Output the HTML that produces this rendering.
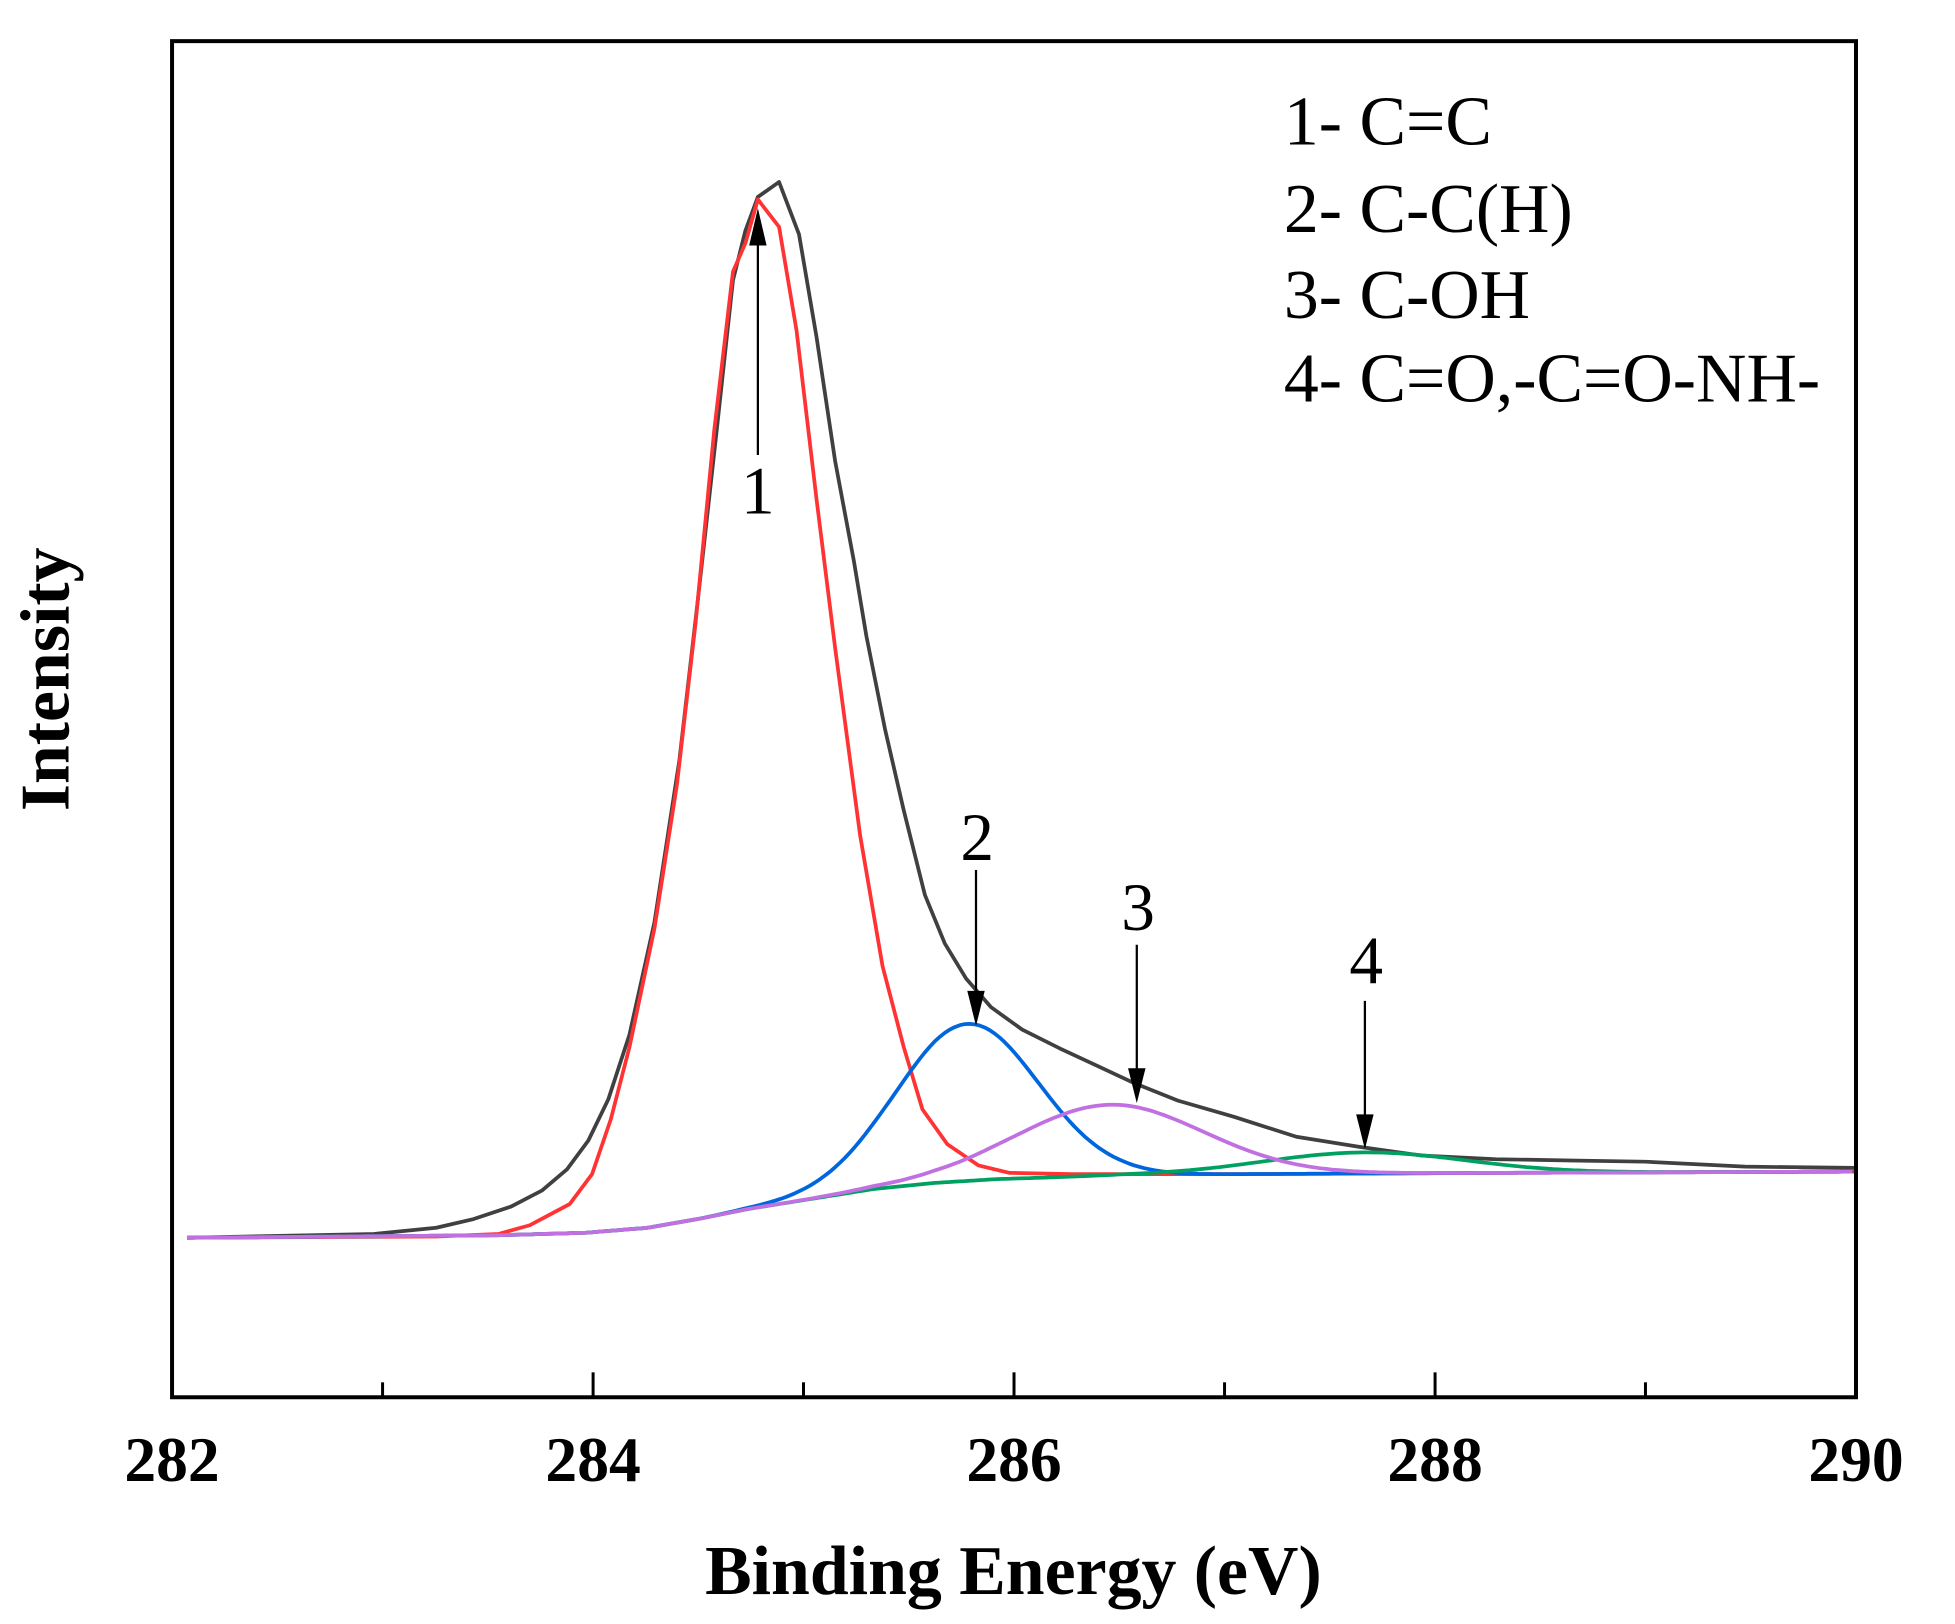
<!DOCTYPE html>
<html><head><meta charset="utf-8">
<style>
html,body{margin:0;padding:0;background:#fff;}
svg{display:block;}
text{font-family:"Liberation Serif",serif;fill:#000;}
</style></head>
<body>
<svg id="s" width="1955" height="1624" viewBox="0 0 1568.4 1302.9" xmlns="http://www.w3.org/2000/svg">
<rect x="0" y="0" width="1568.4" height="1302.9" fill="#fff"/>
<g id="curves" fill="none" stroke-width="3" stroke-linejoin="round"></g>
<rect x="138" y="33" width="1351" height="1088" fill="none" stroke="#000" stroke-width="3.2"/>
<g stroke="#000" stroke-width="2.4">
<line x1="306.9" y1="1121" x2="306.9" y2="1109"/>
<line x1="475.8" y1="1121" x2="475.8" y2="1101"/>
<line x1="644.6" y1="1121" x2="644.6" y2="1109"/>
<line x1="813.5" y1="1121" x2="813.5" y2="1101"/>
<line x1="982.4" y1="1121" x2="982.4" y2="1109"/>
<line x1="1151.3" y1="1121" x2="1151.3" y2="1101"/>
<line x1="1320.1" y1="1121" x2="1320.1" y2="1109"/>
</g>
<g font-size="51" font-weight="bold" text-anchor="middle">
<text x="138" y="1188">282</text>
<text x="475.8" y="1188">284</text>
<text x="813.5" y="1188">286</text>
<text x="1151.3" y="1188">288</text>
<text x="1489" y="1188">290</text>
</g>
<text x="813" y="1279" font-size="56" font-weight="bold" text-anchor="middle">Binding Energy (eV)</text>
<text transform="translate(55,545) rotate(-90)" font-size="56" font-weight="bold" text-anchor="middle">Intensity</text>
<g font-size="56">
<text x="1030" y="116">1- C=C</text>
<text x="1030" y="186">2- C-C(H)</text>
<text x="1030" y="255">3- C-OH</text>
<text x="1030" y="322">4- C=O,-C=O-NH-</text>
</g>
<g stroke="#000" stroke-width="1.8">
<line x1="608" y1="365" x2="608" y2="195"/>
<line x1="783" y1="698" x2="783" y2="800"/>
<line x1="912" y1="758" x2="912" y2="862"/>
<line x1="1095" y1="803" x2="1095" y2="900"/>
</g>
<g fill="#000">
<polygon points="608,167 601,197 615,197"/>
<polygon points="783,823 776,795 790,795"/>
<polygon points="912,885 905,857 919,857"/>
<polygon points="1095,922 1088,894 1102,894"/>
</g>
<g font-size="54" text-anchor="middle">
<text x="608" y="412">1</text>
<text x="784" y="690">2</text>
<text x="913" y="746">3</text>
<text x="1096" y="789">4</text>
</g>
</svg>
<script>
(function(){
var ns="http://www.w3.org/2000/svg",g=document.getElementById("curves");
function interp(pts,x){if(x<=pts[0][0])return pts[0][1];for(var i=1;i<pts.length;i++){if(x<=pts[i][0]){var a=pts[i-1],b=pts[i];return a[1]+(b[1]-a[1])*(x-a[0])/(b[0]-a[0]);}}return pts[pts.length-1][1];}
var base=[[150,993],[400,991],[470,989],[520,985],[560,978],[600,970],[650,962],[700,954],[750,949],[800,946],[900,943],[1000,942],[1200,941],[1489,940]];
function gauss(x,c,h,s){return h*Math.exp(-(x-c)*(x-c)/(2*s*s));}
function path(fn,col){var d="";for(var x=150;x<=1489;x+=4){d+=(x==150?"M":"L")+x+","+fn(x).toFixed(1);}var p=document.createElementNS(ns,"path");p.setAttribute("d",d);p.setAttribute("stroke",col);g.appendChild(p);}
function poly(pts,col){var d="";pts.forEach(function(p,i){d+=(i?"L":"M")+p[0]+","+p[1];});var p=document.createElementNS(ns,"path");p.setAttribute("d",d);p.setAttribute("stroke",col);g.appendChild(p);}
poly([[150,993],[300,990],[350,985],[380,978],[410,968],[435,955],[455,938],[472,915],[488,882],[505,830],[525,740],[545,610],[560,480],[575,345],[588,225],[598,185],[608,158],[625,146],[641,188],[655,270],[670,370],[685,450],[695,510],[710,585],[725,650],[742,718],[758,757],[775,785],[795,808],[820,826],[850,841],[880,855],[910,869],[945,883],[990,896],[1040,912],[1090,920],[1140,927],[1200,930],[1260,931],[1320,932],[1400,936],[1489,937]],"#404040");
poly([[150,993],[350,992],[400,990],[425,983],[440,975],[457,966],[475,942],[490,898],[505,840],[525,745],[543,630],[558,500],[573,345],[588,218],[598,195],[608,160],[625,182],[639,265],[655,400],[670,520],[690,670],[708,775],[725,840],[740,890],[760,918],[785,935],[810,941],[860,942],[1000,942],[1200,941],[1489,940]],"#ff3333");
path(function(x){return interp(base,x)-gauss(x,776,126,57);},"#0066dd");
path(function(x){return interp(base,x)-gauss(x,1095,17,80);},"#00a060");
path(function(x){return interp(base,x)-gauss(x,890,57,75);},"#c070e0");
})();
</script>
</body></html>
